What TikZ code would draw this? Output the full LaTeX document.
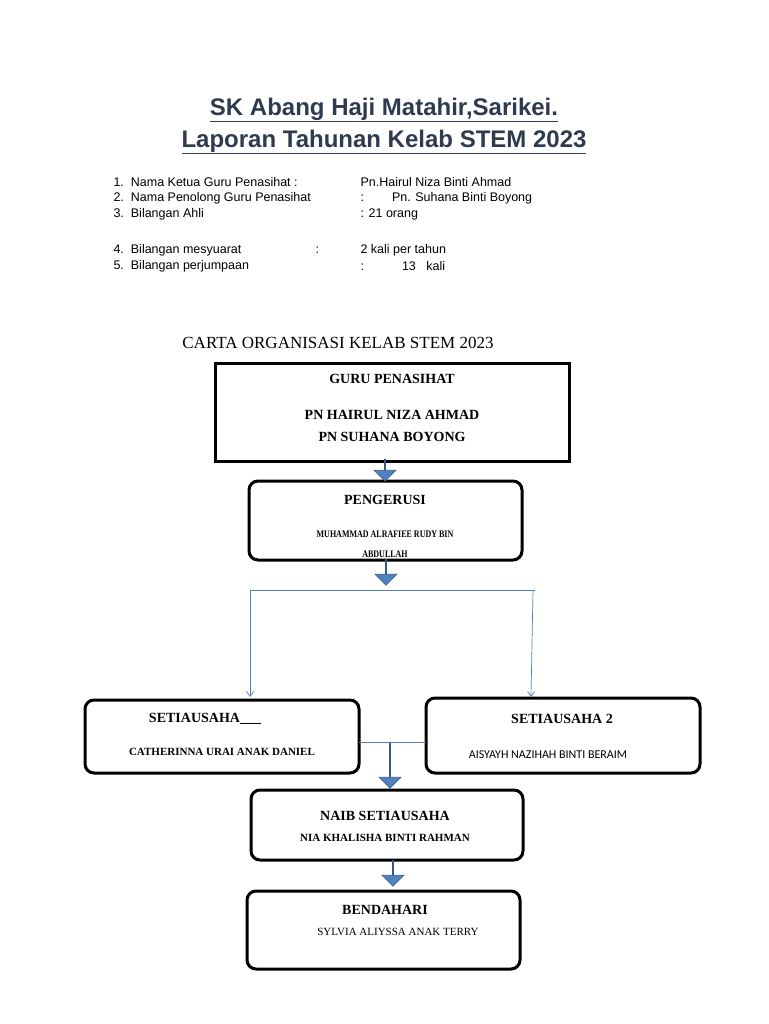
\documentclass[tikz,border=0pt]{standalone}
\usepackage{fontspec}
\setmainfont{Liberation Serif}
\newfontfamily\arial{Liberation Sans}
\newfontfamily\sanscal{Carlito}
\usetikzlibrary{shapes.arrows,arrows.meta}
\definecolor{blk}{HTML}{4F81BD}
\definecolor{ttl}{HTML}{2E3B4E}
\tikzset{
 boxr/.style={draw,line width=3pt,rounded corners=9pt},
 boxs/.style={draw,line width=3pt},
 barrow/.style={single arrow,draw=blk!70!black,fill=blk,line width=0.6pt,shape border rotate=270,single arrow head extend=6pt,minimum width=22pt,inner sep=0pt},
 thin/.style={draw=blk,line width=0.7pt},
 hd/.style={font=\bfseries\fontsize{14}{16}\selectfont},
 nm/.style={font=\bfseries\fontsize{11}{13}\selectfont},
 li/.style={font=\arial\fontsize{12.5}{14}\selectfont,anchor=west},
}
\begin{document}
\begin{tikzpicture}[x=1pt,y=-1pt]
\useasboundingbox (0,0) rectangle (768,1024);
\node[font=\arial\bfseries\fontsize{24}{28}\selectfont,text=ttl] (t1) at (384,110) {\underline{SK Abang Haji Matahir,Sarikei.}};
\node[font=\arial\bfseries\fontsize{24}{28}\selectfont,text=ttl] (t2) at (384,142) {\underline{Laporan Tahunan Kelab STEM 2023}};
\node[li] (l1a) at (110,182) {1.\ \ Nama Ketua Guru Penasihat :};
\node[li] (l1b) at (357,182) {Pn.Hairul Niza Binti Ahmad};
\node[li] (l2a) at (110,198) {2.\ \ Nama Penolong Guru Penasihat};
\node[li] (l2b) at (357,198) {:\hspace{28pt}Pn. Suhana Binti Boyong};
\node[li] (l3a) at (110,214) {3.\ \ Bilangan Ahli};
\node[li] (l3b) at (357,214) {: 21 orang};
\node[li] (l4a) at (110,250) {4.\ \ Bilangan mesyuarat};
\node[li] (l4c) at (312,250) {:};
\node[li] (l4b) at (357,250) {2 kali per tahun};
\node[li] (l5a) at (110,266) {5.\ \ Bilangan perjumpaan};
\node[li] (l5b) at (357,266) {:\hspace{38pt}13\ \ \ kali};
\node[font=\fontsize{17}{20}\selectfont] (ct) at (338,343) {CARTA ORGANISASI KELAB STEM 2023};
% boxes
\draw[boxs] (215,363) rectangle (569,461);
\node[hd] (g1) at (392,379) {GURU PENASIHAT};
\node[hd] (g2) at (392,415) {PN HAIRUL NIZA AHMAD};
\node[hd] (g3) at (392,437) {PN SUHANA BOYONG};
\node (gb) at (392,461) {};
\draw[boxr] (249,481) rectangle (522,560);
\node[hd] (p1) at (385,500) {PENGERUSI};
\begin{scope}
\clip (249,481) rectangle (522,558);
\node[font=\bfseries\fontsize{10}{12}\selectfont] (p2) at (385,534) {\scalebox{0.8}[1]{MUHAMMAD ALRAFIEE RUDY BIN}};
\node[font=\bfseries\fontsize{10}{12}\selectfont] (p3) at (385,554) {\scalebox{0.8}[1]{ABDULLAH}};
\end{scope}
\draw[boxr] (85,700) rectangle (359,773);
\node[hd] (s1) at (205,719) {SETIAUSAHA\_\_\_};
\node[nm] (s1n) at (222,752) {CATHERINNA URAI ANAK DANIEL};
\draw[boxr] (426,698) rectangle (700,773);
\node[hd] (s2) at (562,719) {SETIAUSAHA 2};
\node[font=\sanscal\fontsize{12}{14}\selectfont] (s2n) at (548,755) {AISYAYH NAZIHAH BINTI BERAIM};
\draw[boxr] (251,790) rectangle (523,860);
\node[hd] (n1) at (385,816) {NAIB SETIAUSAHA};
\node[nm] (n2) at (385,838) {NIA KHALISHA BINTI RAHMAN};
\draw[boxr] (247,891) rectangle (520,969);
\node[hd] (b1) at (385,910) {BENDAHARI};
\node[font=\fontsize{11}{13}\selectfont] (b2) at (398,932) {SYLVIA ALIYSSA ANAK TERRY};
% block arrows
\node[barrow,minimum height=22pt] (a1) at (385,470) {};
\node[barrow,minimum height=26pt] (a2) at (386,572) {};
\node[barrow,minimum height=46pt] (a3) at (390,765) {};
\node[barrow,minimum height=26pt] (a4) at (393,873) {};
% thin connectors
\coordinate (hl) at (250,590);
\coordinate (hr) at (535,590);
\coordinate (vl) at (250,697);
\coordinate (vr) at (531,697);
\draw[thin] (hl) -- (hr);
\draw[thin,-{Straight Barb[length=5pt,width=7pt]}] (hl) -- (vl);
\draw[thin,-{Straight Barb[length=5pt,width=7pt]}] (533,590) -- (vr);
\coordinate (ml) at (359,742);
\coordinate (mr) at (426,742);
\draw[thin] (ml) -- (mr);
\end{tikzpicture}
\end{document}
